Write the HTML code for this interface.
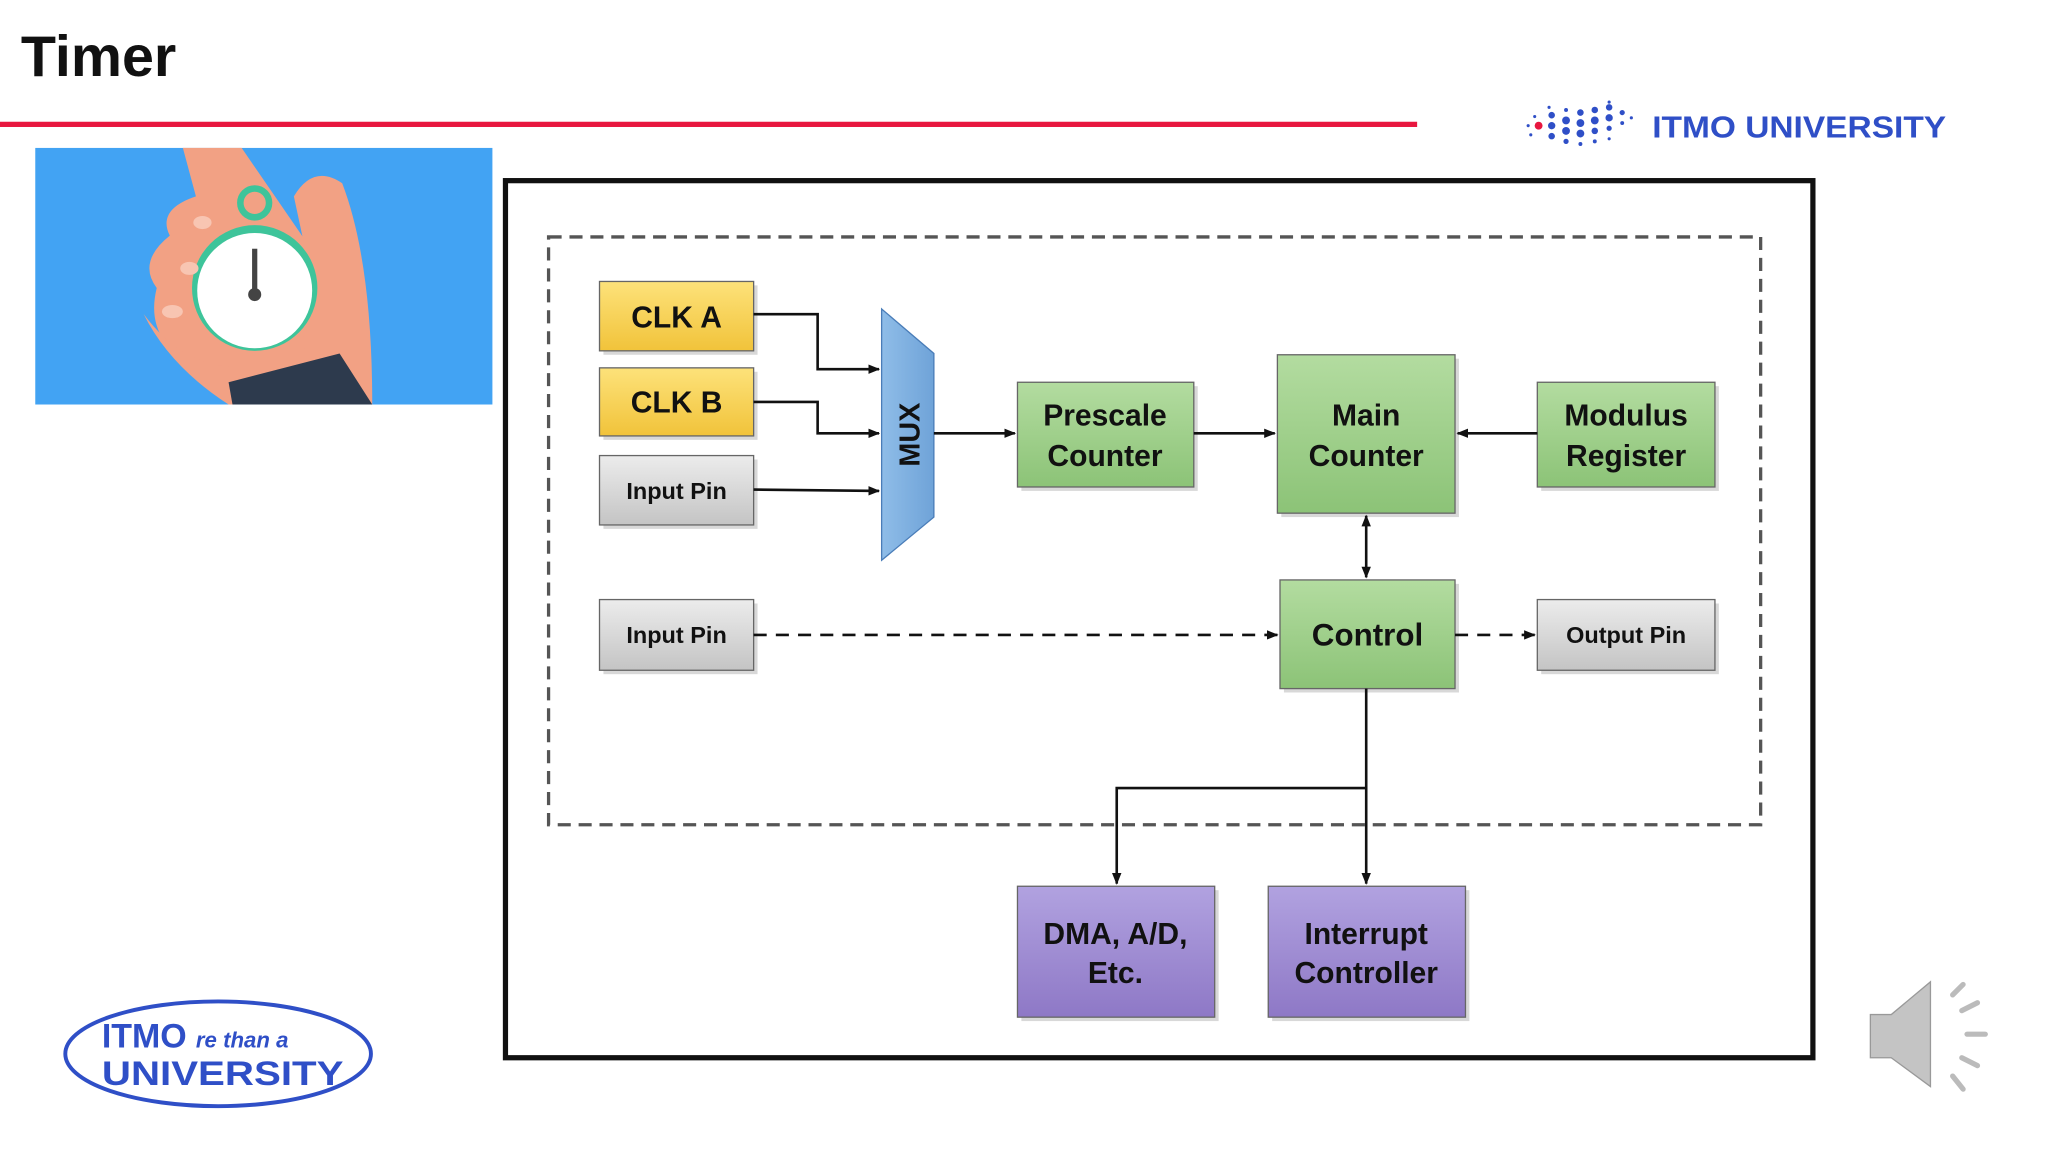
<!DOCTYPE html>
<html><head><meta charset="utf-8"><style>
html,body{margin:0;padding:0;background:#fff;}
svg{display:block;}
text{font-family:"Liberation Sans",sans-serif;font-weight:bold;}
</style></head><body>
<svg width="2048" height="1152" viewBox="0 0 1568 880" preserveAspectRatio="none" xmlns="http://www.w3.org/2000/svg">
<defs>
<marker id="ar" viewBox="0 0 10 10" refX="9" refY="5" markerWidth="9" markerHeight="9" markerUnits="userSpaceOnUse" orient="auto-start-reverse"><path d="M0,1 L10,5 L0,9 z" fill="#111"/></marker>
<linearGradient id="gy" x1="0" y1="0" x2="0" y2="1"><stop offset="0" stop-color="#fde27a"/><stop offset="1" stop-color="#f1c33a"/></linearGradient>
<linearGradient id="gg" x1="0" y1="0" x2="0" y2="1"><stop offset="0" stop-color="#b3dca0"/><stop offset="1" stop-color="#8cc377"/></linearGradient>
<linearGradient id="gr" x1="0" y1="0" x2="0" y2="1"><stop offset="0" stop-color="#ececec"/><stop offset="1" stop-color="#c4c4c4"/></linearGradient>
<linearGradient id="gp" x1="0" y1="0" x2="0" y2="1"><stop offset="0" stop-color="#b1a2e0"/><stop offset="1" stop-color="#8e78c6"/></linearGradient>
<linearGradient id="gb" x1="0" y1="0" x2="1" y2="0"><stop offset="0" stop-color="#8fbde8"/><stop offset="1" stop-color="#6fa3d8"/></linearGradient>
</defs>
<text x="16" y="58" font-size="44" fill="#111">Timer</text>
<rect x="0" y="93" width="1085" height="4" fill="#e8173f"/>
<g fill="#2f4fc7">
<circle cx="1178" cy="96" r="3" fill="#e8173f"/>
<circle cx="1170" cy="96" r="1.2"/><circle cx="1172" cy="103" r="1.2"/><circle cx="1175" cy="89" r="1.2"/>
<circle cx="1188" cy="88" r="2.5"/><circle cx="1188" cy="96" r="2.8"/><circle cx="1188" cy="104" r="2.5"/><circle cx="1186" cy="82" r="1.2"/>
<circle cx="1199" cy="84" r="1.5"/><circle cx="1199" cy="92" r="3"/><circle cx="1199" cy="100" r="3"/><circle cx="1199" cy="108" r="2"/>
<circle cx="1210" cy="86" r="2.5"/><circle cx="1210" cy="94" r="3"/><circle cx="1210" cy="102" r="3"/><circle cx="1210" cy="110" r="1.5"/>
<circle cx="1221" cy="84" r="2.5"/><circle cx="1221" cy="92" r="3"/><circle cx="1221" cy="100" r="2.5"/><circle cx="1221" cy="108" r="1.5"/>
<circle cx="1232" cy="82" r="2.5"/><circle cx="1232" cy="90" r="2.8"/><circle cx="1232" cy="98" r="2"/><circle cx="1232" cy="106" r="1.2"/>
<circle cx="1242" cy="86" r="2"/><circle cx="1242" cy="94" r="1.5"/><circle cx="1249" cy="90" r="1.2"/><circle cx="1232" cy="78" r="1.2"/>
</g>
<text x="1265" y="105" font-size="23" fill="#2f4fc7" textLength="225" lengthAdjust="spacingAndGlyphs">ITMO UNIVERSITY</text>
<rect x="27" y="113" width="350" height="196" fill="#42a3f3"/>
<g>
<path d="M140 113 L185 113 L245 200 L270 309 L180 309 L150 280 Q110 260 120 220 Q105 200 130 180 Q120 160 150 150 Z" fill="#f2a184"/>
<path d="M225 150 Q240 125 262 140 Q285 200 285 309 L240 309 Q225 250 240 220 Z" fill="#f2a184"/>
<circle cx="195" cy="220" r="48" fill="#3ec49a"/>
<circle cx="195" cy="222" r="44" fill="#fff"/>
<circle cx="195" cy="155" r="11" fill="none" stroke="#3ec49a" stroke-width="5"/>
<rect x="193" y="190" width="4" height="34" fill="#444"/><circle cx="195" cy="225" r="5" fill="#444"/>
<path d="M110 240 Q140 280 180 280 L200 309 L175 309 Q130 280 110 240Z" fill="#f2a184"/>
<path d="M175 292 L260 270 L285 309 L178 309 Z" fill="#2d3a4d"/>
<ellipse cx="132" cy="238" rx="8" ry="5" fill="#f8c5b2"/><ellipse cx="145" cy="205" rx="7" ry="5" fill="#f8c5b2"/><ellipse cx="155" cy="170" rx="7" ry="5" fill="#f8c5b2"/>
</g>
<rect x="387" y="138" width="1001" height="670" fill="#fff" stroke="#111" stroke-width="4"/>
<rect x="420" y="181" width="928" height="449" fill="none" stroke="#555" stroke-width="2.5" stroke-dasharray="10,6"/>
<g fill="#d8d8d8">
<rect x="462" y="218" width="118" height="53"/><rect x="462" y="284" width="118" height="52"/>
<rect x="462" y="351" width="118" height="53"/><rect x="462" y="461" width="118" height="54"/>
<rect x="782" y="295" width="135" height="80"/><rect x="981" y="274" width="136" height="121"/>
<rect x="1180" y="295" width="136" height="80"/><rect x="983" y="446" width="134" height="83"/>
<rect x="1180" y="461" width="136" height="54"/><rect x="782" y="680" width="151" height="100"/>
<rect x="974" y="680" width="151" height="100"/>
</g>
<g stroke="#666" stroke-width="1">
<rect x="459" y="215" width="118" height="53" fill="url(#gy)"/>
<rect x="459" y="281" width="118" height="52" fill="url(#gy)"/>
<rect x="459" y="348" width="118" height="53" fill="url(#gr)"/>
<rect x="459" y="458" width="118" height="54" fill="url(#gr)"/>
<rect x="779" y="292" width="135" height="80" fill="url(#gg)"/>
<rect x="978" y="271" width="136" height="121" fill="url(#gg)"/>
<rect x="1177" y="292" width="136" height="80" fill="url(#gg)"/>
<rect x="980" y="443" width="134" height="83" fill="url(#gg)"/>
<rect x="1177" y="458" width="136" height="54" fill="url(#gr)"/>
<rect x="779" y="677" width="151" height="100" fill="url(#gp)"/>
<rect x="971" y="677" width="151" height="100" fill="url(#gp)"/>
<path d="M675 236 L715 270 L715 395 L675 428 Z" fill="url(#gb)" stroke="#4a7db8"/>
</g>
<g fill="#111" text-anchor="middle">
<text x="518" y="250" font-size="23">CLK A</text>
<text x="518" y="315" font-size="23">CLK B</text>
<text x="518" y="381" font-size="18">Input Pin</text>
<text x="518" y="491" font-size="18">Input Pin</text>
<text x="846" y="325" font-size="23">Prescale</text><text x="846" y="356" font-size="23">Counter</text>
<text x="1046" y="325" font-size="23">Main</text><text x="1046" y="356" font-size="23">Counter</text>
<text x="1245" y="325" font-size="23">Modulus</text><text x="1245" y="356" font-size="23">Register</text>
<text x="1047" y="493" font-size="24">Control</text>
<text x="1245" y="491" font-size="18">Output Pin</text>
<text x="854" y="721" font-size="23">DMA, A/D,</text><text x="854" y="751" font-size="23">Etc.</text>
<text x="1046" y="721" font-size="23">Interrupt</text><text x="1046" y="751" font-size="23">Controller</text>
<text x="0" y="0" font-size="22" transform="translate(704,332) rotate(-90)">MUX</text>
</g>
<g fill="none" stroke="#111" stroke-width="2">
<path d="M577 240 H626 V282 H673" marker-end="url(#ar)"/>
<path d="M577 307 H626 V331 H673" marker-end="url(#ar)"/>
<path d="M577 374 L673 375" marker-end="url(#ar)"/>
<path d="M715 331 H777" marker-end="url(#ar)"/>
<path d="M914 331 H976" marker-end="url(#ar)"/>
<path d="M1177 331 H1116" marker-end="url(#ar)"/>
<path d="M1046 394 V441" marker-start="url(#ar)" marker-end="url(#ar)"/>
<path d="M577 485 H978" stroke-dasharray="10,7" marker-end="url(#ar)"/>
<path d="M1114 485 H1175" stroke-dasharray="10,7" marker-end="url(#ar)"/>
<path d="M1046 526 V675" marker-end="url(#ar)"/>
<path d="M1046 602 H855 V675" marker-end="url(#ar)"/>
</g>
<ellipse cx="167" cy="805" rx="117" ry="40" fill="#fff" stroke="#2f4fc7" stroke-width="3"/>
<text x="78" y="800" font-size="26" fill="#2f4fc7" font-weight="normal">ITMO</text>
<text x="150" y="800" font-size="17" fill="#2f4fc7" font-style="italic" font-weight="normal">re than a</text>
<text x="78" y="829" font-size="26" fill="#2f4fc7" textLength="185" lengthAdjust="spacingAndGlyphs">UNIVERSITY</text>
<g>
<path d="M1432 775 H1448 L1478 750 V830 L1448 808 H1432 Z" fill="#c4c4c4" stroke="#999"/>
<g stroke="#bbb" stroke-width="4" stroke-linecap="round">
<path d="M1495 760 L1503 752"/><path d="M1502 772 L1514 766"/><path d="M1506 790 L1520 790"/><path d="M1502 808 L1514 814"/><path d="M1495 822 L1503 832"/>
</g></g>
</svg>
</body></html>
